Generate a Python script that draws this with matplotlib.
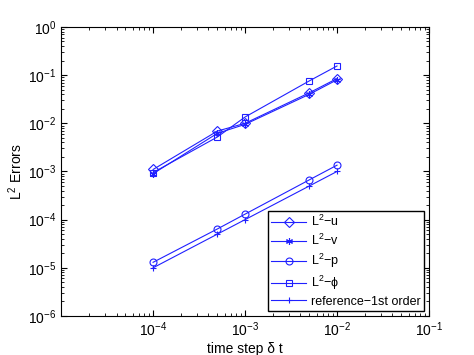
import numpy as np
import matplotlib.pyplot as plt
import matplotlib.ticker as ticker

plt.rcParams['font.family'] = ['Liberation Sans', 'DejaVu Sans']
plt.rcParams['mathtext.fontset'] = 'custom'
plt.rcParams['mathtext.rm'] = 'Liberation Sans'

# 時間步長與誤差
dt = [1e-4, 5e-4, 1e-3, 5e-3, 1e-2]
err_u = [1.1e-3, 6.9e-3, 1.0e-2, 4.3e-2, 8.5e-2]
err_v = [9.0e-4, 6.2e-3, 9.5e-3, 4.0e-2, 8.0e-2]
err_p = [1.3e-5, 6.4e-5, 1.3e-4, 6.7e-4, 1.35e-3]
err_phi = [9.5e-4, 5.2e-3, 1.35e-2, 7.6e-2, 1.55e-1]
ref_1st = [1e-5, 5e-5, 1e-4, 5e-4, 1e-3]

fig = plt.figure(figsize=(4.74, 3.55), dpi=100)
ax = fig.add_axes([0.129, 0.110, 0.776, 0.814])

c = '#2020ff'
kw = dict(color=c, lw=0.8, markersize=5, mfc='none', mew=0.8)
ax.loglog(dt, err_u, marker='D', label='L$^2$\u2212u', **kw)
ax.loglog(dt, err_v, marker=(6, 2, 0), label='L$^2$\u2212v', **kw)
ax.loglog(dt, err_p, marker='o', label='L$^2$\u2212p', **kw)
ax.loglog(dt, err_phi, marker='s', label='L$^2$\u2212\u03d5', **kw)
ax.loglog(dt, ref_1st, marker='+', label='reference\u22121st order', **kw)

ax.set_xlim(1e-5, 1e-1)
ax.set_ylim(1e-6, 1e0)
ax.set_xticks([1e-4, 1e-3, 1e-2, 1e-1])
ax.set_yticks([1e-6, 1e-5, 1e-4, 1e-3, 1e-2, 1e-1, 1e0])
ax.xaxis.set_minor_locator(ticker.LogLocator(base=10, subs=np.arange(2, 10), numticks=20))
ax.yaxis.set_minor_locator(ticker.LogLocator(base=10, subs=np.arange(2, 10), numticks=20))
ax.xaxis.set_minor_formatter(ticker.NullFormatter())
ax.yaxis.set_minor_formatter(ticker.NullFormatter())
ax.tick_params(which='both', direction='in', top=True, right=True, labelsize=10)
ax.tick_params(which='major', length=4)
ax.tick_params(which='minor', length=2)

ax.set_xlabel('time step \u03b4 t', fontsize=10, labelpad=2)
ax.set_ylabel('L$^2$ Errors', fontsize=10, labelpad=2)

ax.legend(loc='lower right', fontsize=9, fancybox=False, edgecolor='black',
          framealpha=1, borderpad=0.25, labelspacing=0.3, handlelength=2.8,
          handletextpad=0.4, borderaxespad=0.4)

fig.savefig('out.png', dpi=100)
